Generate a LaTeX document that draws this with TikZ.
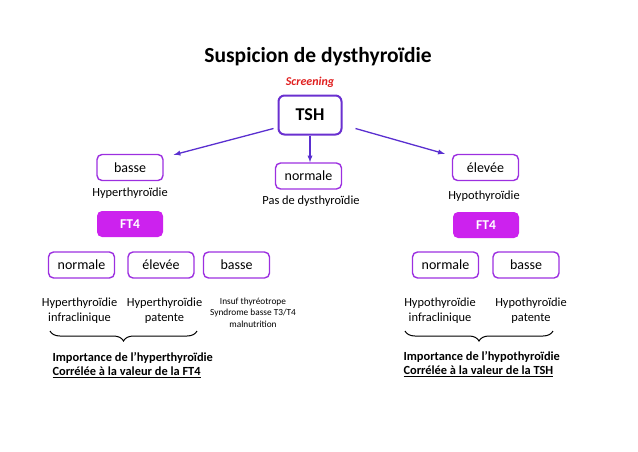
\documentclass[tikz,border=0pt]{standalone}
\usepackage{fontspec}
\setmainfont{Carlito}
\usetikzlibrary{shapes,arrows,decorations.pathreplacing}
\definecolor{tshline}{HTML}{6A30D0}
\definecolor{boxline}{HTML}{9C2FE0}
\definecolor{ftfill}{HTML}{CC22EE}
\definecolor{arrowline}{HTML}{5A2FD0}
\definecolor{screenred}{HTML}{E02020}
\tikzset{
	root/.style     = {draw=tshline, line width=2pt, rounded corners=6pt,
		minimum width=63pt, minimum height=39pt, font=\fontsize{18}{20}\selectfont\bfseries},
	level/.style    = {draw=boxline, line width=1.4pt, rounded corners=5pt,
		minimum width=66pt, minimum height=26pt, font=\fontsize{14}{16}\selectfont},
	dosage/.style   = {fill=ftfill, rounded corners=5pt, minimum width=66pt,
		minimum height=26pt, text=white, font=\fontsize{13.5}{16}\selectfont\bfseries},
	comment/.style  = {align=center, font=\fontsize{12.4}{15}\selectfont}, % diagnostic
	note/.style     = {align=center, font=\fontsize{9.3}{11.5}\selectfont}, % small text
	concl/.style    = {align=left, anchor=west, font=\fontsize{12.4}{14}\selectfont\bfseries},
	bracket/.style  = {decorate, decoration={brace, mirror, amplitude=10pt}, line width=1pt},
	link/.style     = {->, arrowline, line width=1.3pt}
}

\begin{document}
\begin{tikzpicture}[x=1pt, y=-1pt, >=latex]
	\useasboundingbox (0,0) rectangle (638,451);
	\draw
	node at (318,57) [font=\fontsize{21.5}{24}\selectfont\bfseries] (title) {Suspicion de dysthyroïdie}
	node at (310,82) [font=\fontsize{12}{14}\selectfont\bfseries\itshape, text=screenred] (scr) {Screening}
	node at (310,115) [root] (tsh) {TSH}
	node at (130,167.5) [level] (tbasse) {basse}
	node at (308.5,176) [level] (tnorm) {normale}
	node at (485.5,167.5) [level] (televee) {élevée}
	node at (130,193) [comment] (hyper) {Hyperthyroïdie}
	node at (311,201) [comment] (pasdys) {Pas de dysthyroïdie}
	node at (484,196) [comment] (hypo) {Hypothyroïdie}
	node at (130,224) [dosage] (ft1) {FT4}
	node at (486,225) [dosage] (ft2) {FT4}
	node at (81.5,265) [level] (f1) {normale}
	node at (161,265) [level] (f2) {élevée}
	node at (236.5,265) [level] (f3) {basse}
	node at (445.5,265) [level] (f4) {normale}
	node at (526,265) [level] (f5) {basse}
	node at (79.5,310.5) [comment] (c1) {Hyperthyroïdie\\infraclinique}
	node at (164.5,310.5) [comment] (c2) {Hyperthyroïdie\\patente}
	node at (253,312.5) [note] (c3) {Insuf thyréotrope\\Syndrome basse T3/T4\\malnutrition}
	node at (440,310.5) [comment] (c4) {Hypothyroïdie\\infraclinique}
	node at (531,310.5) [comment] (c5) {Hypothyroïdie\\patente}
	node at (49,365) [concl] (k1) {Importance de l’hyperthyroïdie\\\underline{Corrélée à la valeur de la FT4}}
	node at (400,364) [concl] (k2) {Importance de l’hypothyroïdie\\\underline{Corrélée à la valeur de la TSH}}
	;
	\draw[link]([xshift=-4pt,yshift=7pt]tsh.south west)--([xshift=10pt,yshift=-1pt]tbasse.north east);
	\draw[link](tsh)--(tsh |- tnorm.north);
	\draw[link]([xshift=13pt,yshift=7pt]tsh.south east)--([xshift=-7pt]televee.north west);
	\draw[bracket](50,331)--(197,331);
	\draw[bracket](405,331)--(553,331);
\end{tikzpicture}
\end{document}
